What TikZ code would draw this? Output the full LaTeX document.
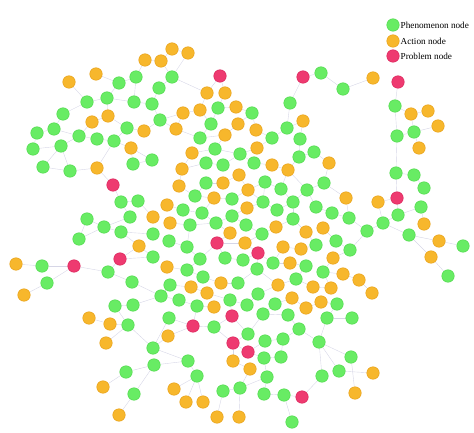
\documentclass[tikz,border=0pt]{standalone}
\usepackage{fontspec}
\setmainfont{Liberation Serif}
\usetikzlibrary{positioning,backgrounds}
\definecolor{phengreen}{RGB}{104,236,100}
\definecolor{phenedge}{RGB}{84,218,80}
\definecolor{actorange}{RGB}{247,183,44}
\definecolor{actedge}{RGB}{232,163,28}
\definecolor{probpink}{RGB}{238,58,112}
\definecolor{probedge}{RGB}{220,40,94}
\definecolor{linkgray}{RGB}{214,214,230}
\tikzset{
  knode/.style={circle,minimum size=12.5pt,inner sep=0pt,line width=0.5pt},
  phen/.style={knode,fill=phengreen,draw=phenedge},
  act/.style={knode,fill=actorange,draw=actedge},
  prob/.style={knode,fill=probpink,draw=probedge},
  link/.style={draw=linkgray,line width=0.4pt},
  legtext/.style={font=\fontsize{9.2}{11}\selectfont,inner sep=0pt}
}
\begin{document}
\begin{tikzpicture}[x=1pt,y=-1pt]
\useasboundingbox (0,0) rectangle (474,433);
% phenomenon nodes
\foreach \x/\y in {119/83,136/77,159/88,87/102,107/98,134/102,152/104,63/114,127/128,160/120,37/133,54/129,79/136,97/139,114/141,33/149,61/146,152/160,43/167,70/171,133/164,
172/77,321/73,218/108,252/113,290/103,211/124,287/128,200/138,272/138,300/139,215/149,240/154,299/157,314/152,206/163,223/165,254/163,
343/89,395/106,414/132,397/136,396/173,414/175,324/183,307/190,424/188,
121/202,138/201,87/219,130/217,104/227,121/232,153/234,79/239,42/266,153/257,108/272,47/283,132/282,161/296,115/306,133/305,
206/183,265/182,281/189,195/196,232/199,263/202,293/202,183/210,202/213,277/210,316/207,190/225,216/223,232/216,246/225,293/219,262/234,169/241,187/247,316/245,200/259,225/258,243/260,273/263,306/266,187/270,257/269,203/277,238/283,296/279,170/285,258/294,179/300,230/300,247/305,197/306,275/304,
128/325,169/318,214/327,263/314,248/334,153/348,265/341,281/357,154/365,188/361,264/358,126/372,197/376,267/377,223/391,240/388,264/394,134/394,
288/315,299/329,283/339,319/342,351/357,322/376,339/371,284/395,292/422,
421/207,332/213,349/218,383/223,398/215,367/231,409/235,336/241,463/246,350/250,323/272,448/276,337/304,327/318,352/318}
  \node[phen] (n\x-\y) at (\x,\y) {};
% action nodes
\foreach \x/\y in {172/49,188/53,145/60,161/61,69/82,96/74,108/116,92/122,144/131,131/148,97/168,
207/93,225/93,200/110,236/107,183/113,238/124,256/130,303/121,176/129,225/135,257/148,192/153,182/169,272/165,288/170,
373/78,411/114,428/111,438/126,419/148,329/163,346/198,378/202,
153/217,139/246,16/264,24/295,
239/175,179/186,223/183,248/190,214/198,167/205,247/208,170/223,276/227,306/232,230/233,245/243,283/247,301/249,290/263,167/267,221/283,278/285,313/287,191/287,207/293,292/298,214/307,306/308,
89/318,110/324,106/343,168/336,233/361,250/369,103/387,174/389,186/402,203/402,119/415,217/417,239/417,
321/302,373/373,355/393,
424/224,323/228,439/241,333/258,431/257,343/274,359/280,331/288,372/293}
  \node[act] (n\x-\y) at (\x,\y) {};
% problem nodes
\foreach \x/\y in {220/76,303/77,398/82,397/198,113/185,74/266,120/259,217/243,258/253,193/326,232/316,233/343,248/352,302/397}
  \node[prob] (n\x-\y) at (\x,\y) {};
% relations
\begin{scope}[on background layer]
\foreach \a/\b in {145-60/161-61,161-61/172-49,172-49/188-53,161-61/172-77,188-53/172-77,136-77/145-60,119-83/136-77,96-74/119-83,69-82/87-102,87-102/107-98,107-98/119-83,107-98/134-102,134-102/136-77,134-102/152-104,152-104/159-88,159-88/172-77,63-114/87-102,63-114/54-129,108-116/107-98,92-122/108-116,92-122/79-136,127-128/108-116,127-128/144-131,144-131/160-120,160-120/152-104,37-133/54-129,54-129/79-136,79-136/97-139,97-139/114-141,114-141/127-128,33-149/61-146,61-146/79-136,131-148/114-141,131-148/152-160,152-160/133-164,133-164/131-148,43-167/61-146,70-171/97-168,97-168/114-141,70-171/61-146,33-149/37-133,43-167/70-171,
172-77/207-93,220-76/207-93,220-76/225-93,207-93/200-110,225-93/218-108,218-108/236-107,236-107/252-113,200-110/183-113,183-113/176-129,183-113/160-120,200-110/211-124,211-124/218-108,211-124/200-138,238-124/252-113,238-124/225-135,256-130/252-113,256-130/272-138,290-103/303-77,290-103/287-128,303-121/287-128,303-121/300-139,287-128/272-138,300-139/299-157,176-129/200-138,200-138/225-135,225-135/215-149,215-149/192-153,215-149/240-154,240-154/257-148,257-148/272-138,240-154/254-163,254-163/272-165,272-165/288-170,288-170/299-157,299-157/314-152,314-152/329-163,192-153/182-169,182-169/206-163,206-163/223-165,223-165/240-154,160-120/176-129,
303-77/321-73,321-73/343-89,343-89/373-78,398-82/395-106,395-106/411-114,411-114/428-111,414-132/438-126,414-132/411-114,395-106/397-136,397-136/414-132,397-136/396-173,419-148/414-132,396-173/414-175,396-173/397-198,424-188/414-175,397-198/378-202,397-198/398-215,378-202/383-223,346-198/324-183,324-183/307-190,329-163/324-183,307-190/288-170,
398-215/421-207,398-215/383-223,421-207/424-224,383-223/409-235,409-235/439-241,439-241/463-246,409-235/431-257,431-257/448-276,383-223/367-231,367-231/350-250,349-218/332-213,332-213/316-207,349-218/367-231,336-241/323-228,336-241/350-250,350-250/333-258,333-258/323-272,323-272/343-274,343-274/359-280,359-280/372-293,331-288/323-272,346-198/349-218,
113-185/121-202,121-202/138-201,138-201/153-217,121-202/130-217,130-217/104-227,104-227/87-219,87-219/79-239,104-227/121-232,121-232/153-234,121-232/139-246,139-246/153-257,120-259/139-246,120-259/108-272,120-259/153-257,74-266/42-266,42-266/16-264,74-266/47-283,47-283/24-295,74-266/108-272,108-272/132-282,132-282/161-296,161-296/133-305,133-305/115-306,79-239/104-227,97-168/113-185,
182-169/179-186,206-183/223-183,223-183/239-175,239-175/248-190,248-190/265-182,265-182/281-189,281-189/288-170,281-189/293-202,293-202/307-190,307-190/316-207,195-196/214-198,214-198/232-199,232-199/248-190,248-190/263-202,263-202/277-210,277-210/293-202,293-202/293-219,167-205/183-210,183-210/202-213,202-213/214-198,202-213/216-223,216-223/232-216,232-216/247-208,247-208/263-202,232-216/246-225,246-225/262-234,262-234/276-227,276-227/293-219,293-219/306-232,306-232/316-245,170-223/190-225,190-225/216-223,190-225/187-247,169-241/187-247,187-247/200-259,200-259/217-243,217-243/230-233,230-233/216-223,217-243/245-243,245-243/262-234,245-243/258-253,258-253/243-260,258-253/273-263,273-263/283-247,283-247/301-249,301-249/316-245,290-263/306-266,290-263/273-263,225-258/243-260,225-258/217-243,167-267/187-270,187-270/200-259,187-270/203-277,203-277/221-283,221-283/238-283,238-283/257-269,257-269/258-253,257-269/278-285,278-285/296-279,296-279/313-287,306-266/296-279,170-285/191-287,191-287/207-293,207-293/230-300,230-300/247-305,258-294/247-305,258-294/278-285,292-298/306-308,306-308/321-302,321-302/337-304,313-287/331-288,161-296/179-300,179-300/197-306,197-306/214-307,275-304/292-298,170-285/161-296,206-183/195-196,265-182/263-202,179-186/195-196,
115-306/128-325,89-318/110-324,110-324/128-325,128-325/153-348,106-343/128-325,153-348/169-318,169-318/193-326,193-326/214-327,214-327/232-316,232-316/230-300,232-316/248-334,248-334/263-314,263-314/275-304,233-343/248-334,248-352/233-343,248-352/265-341,265-341/283-339,283-339/299-329,299-329/288-315,288-315/263-314,299-329/319-342,319-342/327-318,327-318/352-318,327-318/337-304,319-342/351-357,319-342/339-371,339-371/373-373,319-342/322-376,322-376/302-397,351-357/355-393,168-336/153-348,168-336/193-326,153-348/188-361,154-365/188-361,188-361/197-376,197-376/174-389,197-376/186-402,197-376/203-402,126-372/103-387,126-372/154-365,134-394/119-415,134-394/154-365,233-343/233-361,233-361/250-369,248-352/264-358,264-358/281-357,281-357/283-339,264-358/267-377,267-377/264-394,267-377/240-388,240-388/239-417,223-391/217-417,223-391/240-388,250-369/240-388,264-394/284-395,284-395/292-422,284-395/302-397,214-327/233-343,197-306/193-326}
  \draw[link] (n\a) -- (n\b);
\end{scope}
% legend
\node[phen] (lgPhen) at (393,25) {};
\node[act] (lgAct) at (393,41) {};
\node[prob] (lgProb) at (393,56) {};
\node[legtext,right=1pt of lgPhen] {Phenomenon node};
\node[legtext,right=1pt of lgAct] {Action node};
\node[legtext,right=1pt of lgProb] {Problem node};
\end{tikzpicture}
\end{document}
